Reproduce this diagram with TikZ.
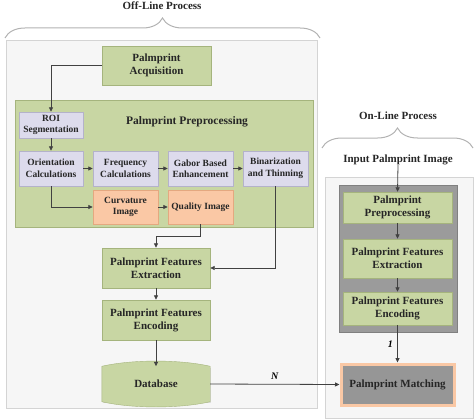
\documentclass[tikz,border=0pt]{standalone}
\usepackage{fontspec}
\setmainfont{Liberation Serif}
\usepackage{tikz}
\usetikzlibrary{arrows.meta}
\usetikzlibrary{decorations.pathreplacing}
\usetikzlibrary{shadows}
\definecolor{boxgreen}{RGB}{200,214,163}
\definecolor{greenline}{RGB}{165,180,125}
\definecolor{lavender}{RGB}{221,219,236}
\definecolor{lavline}{RGB}{180,178,202}
\definecolor{peach}{RGB}{250,200,165}
\definecolor{peachline}{RGB}{228,168,128}
\definecolor{midgray}{RGB}{155,155,155}
\definecolor{paneldraw}{RGB}{212,212,212}
\definecolor{panelfill}{RGB}{246,246,246}
\definecolor{arrowgray}{RGB}{65,65,65}
\tikzstyle{greenbox}=[draw=greenline,fill=boxgreen,align=center,text=black!85,font=\bfseries\fontsize{11}{13}\selectfont,inner sep=0pt,drop shadow={opacity=0.2,shadow xshift=1pt,shadow yshift=-1pt}]
\tikzstyle{smallbox}=[draw=lavline,fill=lavender,align=center,text=black!85,font=\bfseries\fontsize{9.5}{11.5}\selectfont,inner sep=0pt,minimum width=65pt,drop shadow={opacity=0.2,shadow xshift=1pt,shadow yshift=-1pt}]
\tikzstyle{peachbox}=[smallbox,draw=peachline,fill=peach,minimum height=34pt]
\tikzstyle{panel}=[draw=paneldraw,fill=panelfill,line width=0.8pt]
\tikzstyle{arr}=[draw=arrowgray,line width=0.8pt,-{Triangle[length=4.5pt,width=4pt]}]
\tikzstyle{brace}=[draw=black!30,line width=1pt,decorate,decoration={brace,amplitude=20pt}]
\tikzstyle{title}=[text=black!85,font=\bfseries\fontsize{11}{13}\selectfont,inner sep=0pt]

\begin{document}
\begin{tikzpicture}[x=1pt,y=-1pt]
\useasboundingbox (0,0) rectangle (474,420);

% panels and braces
\draw[brace] (5,38) -- (320,38);
\node[title] (offtitle) at (162,6) {Off-Line Process};
\draw[panel] (6,40) rectangle (317,408);
\draw[brace] (322,148) -- (473,148);
\node[title] (ontitle) at (398,116) {On-Line Process};
\draw[panel] (325,177) rectangle (473,418);

% off-line vertices
\node[greenbox,minimum width=109pt,minimum height=39pt] (acq) at (156.5,65.5) {Palmprint\\Acquisition};
\node[greenbox,minimum width=298pt,minimum height=127pt] (pre) at (164,163.5) {};
\node[title,font=\bfseries\fontsize{11.5}{13}\selectfont] (pretitle) at (187,122) {Palmprint Preprocessing};
\node[smallbox,minimum width=64pt,minimum height=26pt] (roi) at (51,125) {ROI\\Segmentation};
\node[smallbox,minimum width=64pt,minimum height=35pt] (ori) at (51,168.5) {Orientation\\Calculations};
\node[smallbox,minimum height=35pt] (freq) at (125.5,168.5) {Frequency\\Calculations};
\node[smallbox,minimum height=35pt] (gabor) at (200.5,168.5) {Gabor Based\\Enhancement};
\node[smallbox,minimum height=35pt] (bin) at (275.5,168.5) {Binarization\\and Thinning};
\node[peachbox] (curv) at (125.5,207) {Curvature\\Image};
\node[peachbox] (qual) at (200.5,207) {Quality Image};
\node[greenbox,minimum width=108pt,minimum height=40pt] (ext) at (156,268) {Palmprint Features\\Extraction};
\node[greenbox,minimum width=108pt,minimum height=40pt] (enc) at (156,320) {Palmprint Features\\Encoding};
\node[greenbox,draw=none,fill=none,drop shadow={opacity=0},minimum width=108pt,minimum height=35pt] (db) at (156,384) {};
\draw[draw=greenline,fill=boxgreen] (db.north west) .. controls +(30,-7) and +(-30,-7) .. (db.north east)
  -- (db.south east) .. controls +(-30,7) and +(30,7) .. (db.south west) -- cycle;
\node[title] (dbtext) at (db) {Database};

% on-line vertices
\node[title] (input) at (398,160) {Input Palmprint Image};
\node[draw=black!50,fill=midgray,minimum width=118pt,minimum height=147pt] (cont) at (398,258.5) {};
\node[greenbox,minimum width=109pt,minimum height=31pt] (onpre) at (397.5,207.5) {Palmprint\\Preprocessing};
\node[greenbox,minimum width=109pt,minimum height=39pt] (onext) at (397.5,258.5) {Palmprint Features\\Extraction};
\node[greenbox,minimum width=109pt,minimum height=33pt] (onenc) at (397.5,308.5) {Palmprint Features\\Encoding};
\node[greenbox,draw=peach,fill=midgray!105,line width=3pt,minimum width=113pt,minimum height=41pt] (match) at (397.5,384.5) {Palmprint Matching};

% edges and paths
\draw[arr] (acq.west) -| (roi.north);
\draw[arr] (roi.south) -- (ori.north);
\draw[arr] (ori.east) -- (freq.west);
\draw[arr] (freq.east) -- (gabor.west);
\draw[arr] (gabor.east) -- (bin.west);
\draw[arr] (ori.south) |- (curv.west);
\draw[arr] (curv.east) -- (qual.west);
\draw[arr] (qual.south) -- ++(0,12) -| (ext.north);
\draw[arr] (bin.south) |- (ext.east);
\draw[arr] (ext.south) -- (enc.north);
\draw[arr] (enc.south) -- (db.north);
\draw[arr] (db.east) -- node[above=1pt,pos=0.5,font=\bfseries\itshape\fontsize{10}{12}\selectfont] {N} (match.west);
\draw[arr] (input.south) -- (onpre.north);
\draw[arr] (onpre.south) -- (onext.north);
\draw[arr] (onext.south) -- (onenc.north);
\draw[arr] (onenc.south) -- node[left=1pt,font=\bfseries\itshape\fontsize{10}{12}\selectfont] {1} (match.north);
\end{tikzpicture}
\end{document}
